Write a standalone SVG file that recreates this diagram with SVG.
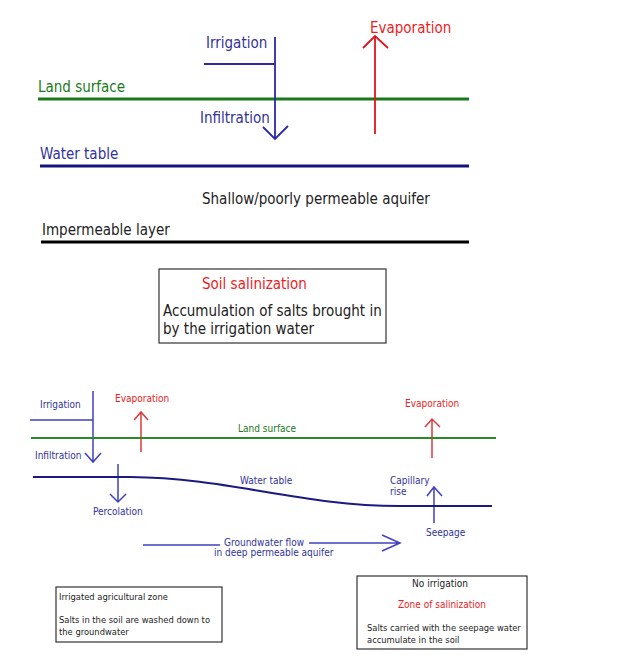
<svg xmlns="http://www.w3.org/2000/svg" width="620" height="665" viewBox="0 0 620 665">
<style>
text{font-family:"DejaVu Sans Condensed","Liberation Sans",sans-serif;}
.t1{font-size:15px;}
.t2{font-size:10px;}
.t3{font-size:9.3px;}
.blue{fill:#32329a;}
.red{fill:#ee1c24;}
.green{fill:#1a7a1a;}
.dark{fill:#222;}
.ab{stroke:#2a2aa8;stroke-width:1.8;fill:none;}
.ar{stroke:#e0141e;stroke-width:1.8;fill:none;}
.ab2{stroke:#4040c0;stroke-width:1.5;fill:none;}
.ar2{stroke:#e03a3a;stroke-width:1.5;fill:none;}
.box{fill:#fff;stroke:#333;stroke-width:1.2;}
</style>
<rect width="620" height="665" fill="#fff"/>
<g id="top-layers">
<line x1="38" y1="99" x2="469" y2="99" stroke="#1a7a1a" stroke-width="3"/>
<line x1="40" y1="166" x2="469" y2="166" stroke="#14147a" stroke-width="3"/>
<line x1="41" y1="242" x2="469" y2="242" stroke="#000" stroke-width="3"/>
<text class="t1 green" x="38" y="92">Land surface</text>
<text class="t1 blue" x="40" y="159">Water table</text>
<text class="t1 dark" x="202" y="204" font-size="15.8">Shallow/poorly permeable aquifer</text>
<text class="t1 dark" x="42" y="235">Impermeable layer</text>
</g>
<g id="connectors">
<path class="ab" d="M204,64 H275 M275,37 V139 M263,127 L275,139 L288,126"/>
<path class="ar" d="M375,134 V36 M363,48 L375,36 L388,48"/>
<path class="ab2" d="M30,420 H93 M93,391 V462 M85,453 L93,462 L101,453"/>
<path class="ar2" d="M141,452 V412 M134,420 L141,412 L148,420"/>
<path class="ab2" d="M118,464 V502 M110,494 L118,502 L126,494"/>
<path class="ar2" d="M432,458 V419 M425,427 L432,419 L440,427"/>
<path class="ab2" d="M434,523 V487 M427,496 L434,487 L442,496"/>
<path class="ab2" d="M143,545 H220 M309,543 H400 M382,535 L400,543 L382,551"/>
</g>
<g id="top-labels">
<text class="t1 blue" x="206" y="48">Irrigation</text>
<text class="t1 blue" x="200" y="123">Infiltration</text>
<text class="t1 red" x="370" y="33">Evaporation</text>
</g>
<g id="soil-salinization-box">
<rect class="box" x="159" y="269" width="227" height="74"/>
<text class="t1 red" x="202" y="289">Soil salinization</text>
<text class="t1 dark" x="163" y="316" font-size="14.6">Accumulation of salts brought in</text>
<text class="t1 dark" x="163" y="334" font-size="14.6">by the irrigation water</text>
</g>
<g id="bottom-layers">
<line x1="31" y1="438" x2="496" y2="438" stroke="#2a8a2a" stroke-width="2"/>
<path d="M33,477 H130 C230,478 300,506 400,506 H492" stroke="#1a1a80" stroke-width="2" fill="none"/>
<text class="t2 green" x="238" y="432">Land surface</text>
<text class="t2 blue" x="240" y="484">Water table</text>
</g>
<g id="bottom-labels">
<text class="t2 blue" x="40" y="408">Irrigation</text>
<text class="t2 red" x="115" y="402">Evaporation</text>
<text class="t2 blue" x="35" y="459">Infiltration</text>
<text class="t2 blue" x="93" y="515">Percolation</text>
<text class="t2 red" x="405" y="407">Evaporation</text>
<text class="t2 blue" x="390" y="484">Capillary</text>
<text class="t2 blue" x="390" y="495">rise</text>
<text class="t2 blue" x="426" y="536">Seepage</text>
<text class="t2 blue" x="224" y="546">Groundwater flow</text>
<text class="t2 blue" x="214" y="556">in deep permeable aquifer</text>
</g>
<g id="irrigated-zone-box">
<rect class="box" x="56" y="587" width="166" height="55"/>
<text class="t3 dark" x="59" y="600">Irrigated agricultural zone</text>
<text class="t3 dark" x="59" y="623">Salts in the soil are washed down to</text>
<text class="t3 dark" x="59" y="635">the groundwater</text>
</g>
<g id="salinization-zone-box">
<rect class="box" x="357" y="576" width="170" height="73"/>
<text class="t2 dark" x="440" y="587" text-anchor="middle">No irrigation</text>
<text class="t2 red" x="442" y="608" text-anchor="middle">Zone of salinization</text>
<text class="t3 dark" x="367" y="631">Salts carried with the seepage water</text>
<text class="t3 dark" x="367" y="643">accumulate in the soil</text>
</g>
</svg>
